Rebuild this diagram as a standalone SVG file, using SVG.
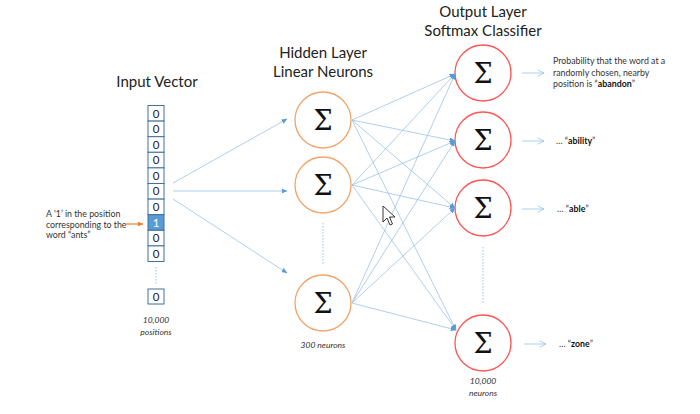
<svg xmlns="http://www.w3.org/2000/svg" width="700" height="414" viewBox="0 0 700 414">
<defs>
<marker id="tri" viewBox="0 0 10 10" refX="9" refY="5" markerWidth="6" markerHeight="6" orient="auto" markerUnits="userSpaceOnUse"><path d="M0,1 L10,5 L0,9 Z" fill="#5b9bd5"/></marker>
<marker id="chev" viewBox="0 0 10 10" refX="9" refY="5" markerWidth="8" markerHeight="8" orient="auto" markerUnits="userSpaceOnUse"><path d="M1,1 L9,5 L1,9" fill="none" stroke="#9dc3e6" stroke-width="1"/></marker>
<marker id="org" viewBox="0 0 10 10" refX="9" refY="5" markerWidth="6" markerHeight="6" orient="auto" markerUnits="userSpaceOnUse"><path d="M0,1 L10,5 L0,9 Z" fill="#ed7d31"/></marker>
</defs>
<style>
.title{font-family:Lato,"Liberation Sans",sans-serif;font-size:15px;fill:#222;text-anchor:middle}
.cell{fill:#fff;stroke:#41719c;stroke-width:1}
.ct{font-family:Lato,"Liberation Sans",sans-serif;font-size:11.5px;fill:#222;text-anchor:middle}
.note{font-family:Lato,"Liberation Sans",sans-serif;font-size:8.8px;fill:#333}
.it{font-family:Lato,"Liberation Sans",sans-serif;font-size:8.5px;font-style:italic;fill:#333;text-anchor:middle}
.hid{fill:#fff;stroke:#f4a46a;stroke-width:1.3}
.out{fill:#fff;stroke:#f55;stroke-width:1.3}
.sig{font-family:"DejaVu Serif","Liberation Serif",serif;font-size:27px;fill:#111;text-anchor:middle}
.w{stroke:#9dc3e6;stroke-width:0.8;fill:none}
.dot{stroke:#9dc3e6;stroke-width:1;stroke-dasharray:1.5,1.5}
</style>
<text class="title" x="157" y="87">Input Vector</text>
<text class="title" x="323" y="58">Hidden Layer</text>
<text class="title" x="323" y="77">Linear Neurons</text>
<text class="title" x="483" y="17">Output Layer</text>
<text class="title" x="483" y="36">Softmax Classifier</text>
<g id="input">
<rect class="cell" x="148" y="105.5" width="16" height="15.6"/><text class="ct" x="156" y="117.5">0</text>
<rect class="cell" x="148" y="121.1" width="16" height="15.6"/><text class="ct" x="156" y="133">0</text>
<rect class="cell" x="148" y="136.7" width="16" height="15.6"/><text class="ct" x="156" y="148.5">0</text>
<rect class="cell" x="148" y="152.3" width="16" height="15.6"/><text class="ct" x="156" y="164">0</text>
<rect class="cell" x="148" y="167.9" width="16" height="15.6"/><text class="ct" x="156" y="179.5">0</text>
<rect class="cell" x="148" y="183.5" width="16" height="15.6"/><text class="ct" x="156" y="195">0</text>
<rect class="cell" x="148" y="199.1" width="16" height="15.6"/><text class="ct" x="156" y="210.5">0</text>
<rect x="148" y="214.7" width="16" height="15.6" fill="#5b9bd5" stroke="#41719c"/><text class="ct" x="156" y="226.5" style="fill:#fff">1</text>
<rect class="cell" x="148" y="230.3" width="16" height="15.6"/><text class="ct" x="156" y="242">0</text>
<rect class="cell" x="148" y="245.9" width="16" height="15.6"/><text class="ct" x="156" y="257.5">0</text>
<line class="dot" x1="156" y1="267" x2="156" y2="285"/>
<rect class="cell" x="148" y="289" width="16" height="15"/><text class="ct" x="156" y="300.5">0</text>
<text class="it" x="156" y="323">10,000</text>
<text class="it" x="156" y="335">positions</text>
</g>
<g id="note">
<text class="note" x="46" y="217">A ‘1’ in the position</text>
<text class="note" x="46" y="227.5">corresponding to the</text>
<text class="note" x="46" y="238">word “ants”</text>
<line x1="125" y1="224" x2="143" y2="224" stroke="#ed7d31" stroke-width="1.2" marker-end="url(#org)"/>
</g>
<g id="h1"><circle class="hid" cx="323" cy="120" r="28"/><text class="sig" x="323" y="130">Σ</text></g>
<g id="h2"><circle class="hid" cx="323" cy="185" r="28"/><text class="sig" x="323" y="195">Σ</text></g>
<g id="h3"><circle class="hid" cx="323" cy="303" r="28"/><text class="sig" x="323" y="313">Σ</text></g>
<line class="dot" x1="323" y1="223" x2="323" y2="265"/>
<text class="it" x="323" y="348">300 neurons</text>
<g id="o1"><circle class="out" cx="483" cy="73" r="28"/><text class="sig" x="483" y="83">Σ</text></g>
<g id="o2"><circle class="out" cx="483" cy="140" r="28"/><text class="sig" x="483" y="150">Σ</text></g>
<g id="o3"><circle class="out" cx="483" cy="208" r="28"/><text class="sig" x="483" y="218">Σ</text></g>
<g id="o4"><circle class="out" cx="483" cy="343" r="28"/><text class="sig" x="483" y="353">Σ</text></g>
<line class="dot" x1="483" y1="247" x2="483" y2="303"/>
<text class="it" x="483" y="384">10,000</text>
<text class="it" x="483" y="396">neurons</text>
<g id="connectors">
<line class="w" x1="173" y1="183" x2="287" y2="119" marker-end="url(#tri)"/>
<line class="w" x1="173" y1="191" x2="287" y2="191" marker-end="url(#tri)"/>
<line class="w" x1="173" y1="199" x2="287" y2="273" marker-end="url(#tri)"/>
<line class="w" x1="352" y1="120" x2="455" y2="74" marker-end="url(#tri)"/>
<line class="w" x1="352" y1="120" x2="455" y2="141" marker-end="url(#tri)"/>
<line class="w" x1="352" y1="120" x2="455" y2="208" marker-end="url(#tri)"/>
<line class="w" x1="352" y1="120" x2="456" y2="330" marker-end="url(#tri)"/>
<line class="w" x1="352" y1="185" x2="455" y2="74" marker-end="url(#tri)"/>
<line class="w" x1="352" y1="185" x2="455" y2="141" marker-end="url(#tri)"/>
<line class="w" x1="352" y1="185" x2="455" y2="208" marker-end="url(#tri)"/>
<line class="w" x1="352" y1="185" x2="456" y2="330" marker-end="url(#tri)"/>
<line class="w" x1="352" y1="303" x2="455" y2="74" marker-end="url(#tri)"/>
<line class="w" x1="352" y1="303" x2="455" y2="141" marker-end="url(#tri)"/>
<line class="w" x1="352" y1="303" x2="455" y2="208" marker-end="url(#tri)"/>
<line class="w" x1="352" y1="303" x2="456" y2="330" marker-end="url(#tri)"/>
<line class="w" x1="522" y1="73" x2="544" y2="73" marker-end="url(#chev)"/>
<line class="w" x1="522" y1="141" x2="544" y2="141" marker-end="url(#chev)"/>
<line class="w" x1="522" y1="209" x2="544" y2="209" marker-end="url(#chev)"/>
<line class="w" x1="524" y1="344" x2="546" y2="344" marker-end="url(#chev)"/>
</g>
<g id="labels">
<text class="note" x="553" y="64">Probability that the word at a</text>
<text class="note" x="553" y="75.5">randomly chosen, nearby</text>
<text class="note" x="553" y="87">position is “<tspan font-weight="bold" fill="#111">abandon</tspan>”</text>
<text class="note" x="556" y="144">… “<tspan font-weight="bold" fill="#111">ability</tspan>”</text>
<text class="note" x="557" y="212">… “<tspan font-weight="bold" fill="#111">able</tspan>”</text>
<text class="note" x="559" y="347">… “<tspan font-weight="bold" fill="#111">zone</tspan>”</text>
</g>
<path d="M383,206 L383,222 L387,218 L390,225 L392.5,224 L389.5,217 L395,217 Z" fill="#fff" stroke="#222" stroke-width="0.9" stroke-linejoin="round"/>
</svg>
